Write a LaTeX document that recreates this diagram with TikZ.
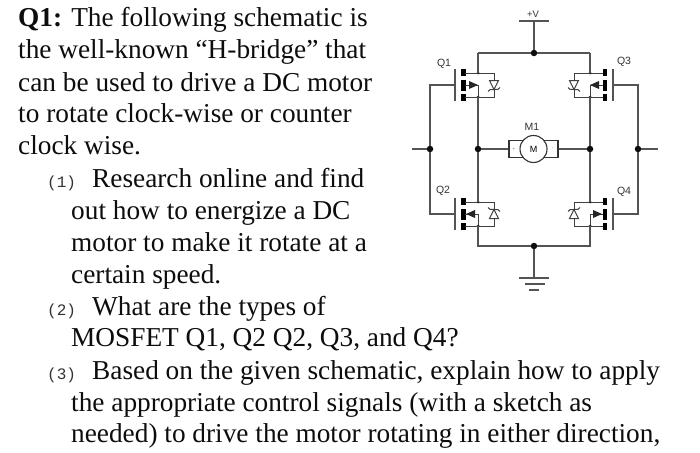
\documentclass[tikz,border=0pt]{standalone}
\usepackage{fontspec}
\setmainfont{Liberation Serif}
\newfontfamily\labelfont{Liberation Sans}
\newfontfamily\numfont{Liberation Mono}
\definecolor{wire}{gray}{0.33}
\tikzset{
  para/.style={anchor=base west,inner sep=0pt,font=\fontsize{27.3}{27.3}\selectfont,text=black!95},
  num/.style={anchor=base west,inner sep=0pt,font=\numfont\fontsize{16}{16}\selectfont,text=black!80},
  lab/.style={inner sep=0pt,font=\labelfont\fontsize{10.5}{10.5}\selectfont,text=black!80},
  dot/.style={circle,fill=black!95,inner sep=0pt,minimum size=6.5pt},
  sdot/.style={circle,fill=black!85,inner sep=0pt,minimum size=3pt},
  wire/.style={draw=wire,line width=1.1pt},
  thinw/.style={draw=black!75,line width=1pt},
  chan/.style={fill=black,draw=none}
}
% #1 name, #2 position, #3 xscale, #4 arrow: 1 towards column, -1 towards channel, #5 diode dir (1 apex down, -1 apex up)
\newcommand{\fet}[5]{%
\begin{scope}[shift={#2},xscale=#3]
  \fill[chan] (-17,-16) rectangle (-12.5,-9);
  \fill[chan] (-17,-5) rectangle (-12.5,5.5);
  \fill[chan] (-17,9) rectangle (-12.5,16);
  \draw[wire] (-23,-16) -- (-23,16);
  \coordinate (#1g) at (-23,0);
  \coordinate (#1d) at (0,-12);
  \coordinate (#1s) at (0,12);
  \draw[thinw] (-13,-12) -- (16,-12) -- (16,12) -- (-13,12);
  \draw[thinw] (-13,0) -- (0,0) -- (0,12);
  \node[sdot] at (0,-12) {};
  \node[sdot] at (0,12) {};
  \ifnum#4=1
    \fill[black!85] (0,0) -- (-9,-4) -- (-9,4) -- cycle;
  \else
    \fill[black!85] (-12,0) -- (-3,-4) -- (-3,4) -- cycle;
  \fi
  \begin{scope}[yscale=#5]
    \draw[thinw,fill=white] (16,-4.5) -- (11.5,-4.5) -- (16,4.5) -- (20.5,-4.5) -- cycle;
    \draw[thinw] (10,6.5) .. controls (11,4.5) and (12,4.5) .. (16,4.5) .. controls (20,4.5) and (21,4.5) .. (22,2.5);
  \end{scope}
\end{scope}}
\begin{document}
\begin{tikzpicture}[x=1pt,y=-1pt]
\useasboundingbox (0,0) rectangle (700,452);
\fill[white] (0,0) rectangle (700,452);
% text
\node[para] (t1) at (18,27) {\textbf{Q1:} The following schematic is};
\node[para] (t2) at (18,59) {the well-known “H-bridge” that};
\node[para] (t3) at (18,91) {can be used to drive a DC motor};
\node[para] (t4) at (18,122) {to rotate clock-wise or counter};
\node[para] (t5) at (18,154) {clock wise.};
\node[num] (n1) at (47,187) {(1)};
\node[para] (t6) at (92,187) {Research online and find};
\node[para] (t7) at (71,219) {out how to energize a DC};
\node[para] (t8) at (71,251) {motor to make it rotate at a};
\node[para] (t9) at (71,283) {certain speed.};
\node[num] (n2) at (47,315) {(2)};
\node[para] (t10) at (92,315) {What are the types of};
\node[para] (t11) at (71,346) {MOSFET Q1, Q2 Q2, Q3, and Q4?};
\node[num] (n3) at (47,379) {(3)};
\node[para] (t12) at (92,379) {Based on the given schematic, explain how to apply};
\node[para] (t13) at (71,411) {the appropriate control signals (with a sketch as};
\node[para] (t14) at (71,442) {needed) to drive the motor rotating in either direction,};
% transistors
\fet{qa}{(478,85)}{1}{1}{1}
\fet{qc}{(590,85)}{-1}{1}{1}
\fet{qb}{(478,214)}{1}{-1}{-1}
\fet{qd}{(590,214)}{-1}{-1}{-1}
% labels
\node[lab] (lq1) at (444,64) {Q1};
\node[lab] (lq2) at (443,191) {Q2};
\node[lab] (lq3) at (624,62) {Q3};
\node[lab] (lq4) at (624,192) {Q4};
\node[lab] (lm1) at (532,127) {M1};
\node[lab,font=\labelfont\fontsize{9.5}{9.5}\selectfont] (lv) at (533,14) {+V};
% junctions
\node[dot] (top) at (534,53) {};
\node[dot] (bot) at (534,246) {};
\node[dot] (gl) at (430,149) {};
\node[dot] (ml) at (478,149) {};
\node[dot] (mr) at (590,149) {};
\node[dot] (gr) at (638,149) {};
\coordinate (inl) at (412,149);
\coordinate (inr) at (658,149);
\coordinate (vcc) at (534,21);
\coordinate (gnd) at (534,278);
\coordinate (tl) at (478,53);
\coordinate (tr) at (590,53);
\coordinate (bl) at (478,246);
\coordinate (br) at (590,246);
% motor
\node[draw=black!80,line width=1.1pt,minimum width=49pt,minimum height=16.5pt,inner sep=0pt] (brush) at (533.5,149) {};
\node[draw=black!80,fill=white,line width=1.1pt,circle,minimum size=27pt,inner sep=0pt,font=\labelfont\fontsize{9}{9}\selectfont] (motor) at (533.5,149) {M};
\node[inner sep=0pt,font=\labelfont\fontsize{4.5}{4.5}\selectfont,text=black!60] (mp) at (514,149) {+};
\node[inner sep=0pt,font=\labelfont\fontsize{4.5}{4.5}\selectfont,text=black!60] (mm) at (552.5,149) {-};
% wires
\draw[wire] (vcc) -- (top);
\draw[wire] (519,21) -- (549,21);
\draw[wire] (tl) -- (top) -- (tr);
\draw[wire] (tl) -- (qad);
\draw[wire] (tr) -- (qcd);
\draw[wire] (qas) -- (ml);
\draw[wire] (qcs) -- (mr);
\draw[wire] (ml) -- (qbd);
\draw[wire] (mr) -- (qdd);
\draw[wire] (qbs) -- (bl) -- (bot) -- (br) -- (qds);
\draw[wire] (ml) -- (brush);
\draw[wire] (brush) -- (mr);
\draw[wire] (inl) -- (gl);
\draw[wire] (gr) -- (inr);
\draw[wire] (gl) |- (qag);
\draw[wire] (gl) |- (qbg);
\draw[wire] (gr) |- (qcg);
\draw[wire] (gr) |- (qdg);
\draw[wire] (bot) -- (gnd);
\draw[wire] (519,278) -- (549,278);
\draw[wire] (525,284) -- (545,284);
\draw[wire] (529,290) -- (539,290);
\end{tikzpicture}
\end{document}
